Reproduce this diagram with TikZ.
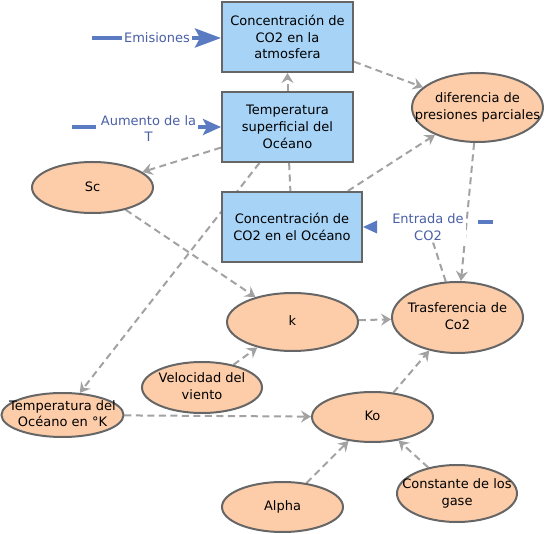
\documentclass[tikz,border=0pt]{standalone}
\usepackage{fontspec}
\setmainfont{DejaVu Sans}
\usetikzlibrary{shapes.geometric,arrows.meta}
\definecolor{boxblue}{HTML}{A6D3F6}
\definecolor{peach}{HTML}{FDCDA9}
\definecolor{bordergray}{HTML}{666666}
\definecolor{dashgray}{HTML}{A2A2A2}
\definecolor{flowblue}{HTML}{5A7BC2}
\definecolor{labelblue}{HTML}{4A5FA6}
\pgfdeclarelayer{bg}
\pgfsetlayers{bg,main}
\newcommand\ctext[1]{\smash{\makebox[0pt]{\raisebox{-3.2pt}{\begin{tabular}{@{}c@{}}#1\end{tabular}}}}}
\tikzset{
  stockbox/.style={draw=bordergray, line width=2pt, fill=boxblue, minimum width=131pt, minimum height=70pt, align=center, inner sep=0pt},
  aux/.style={ellipse, draw=bordergray, line width=2pt, fill=peach, inner sep=0pt},
  infl/.style={draw=dashgray, line width=2pt, dash pattern=on 7pt off 4.5pt, -{Stealth[length=10pt,width=12pt,inset=3.5pt]}},
  flowline/.style={draw=flowblue, line width=4pt},
  flowlabel/.style={text=labelblue, align=center, fill=white, inner sep=2pt}
}
\begin{document}
\begin{tikzpicture}[x=1pt,y=-1pt,font=\fontsize{13}{16.8}\selectfont]
\useasboundingbox (0,0) rectangle (544,534);
% stocks
\node[stockbox] (b1) at (287.5,37) {Concentración de\\CO2 en la\\atmosfera};
\node[stockbox] (b2) at (287.5,127) {Temperatura\\superficial del\\Océano};
\node[stockbox, minimum width=140pt] (b3) at (292,227) {Concentración de\\CO2 en el Océano};
% auxiliaries
\node[aux, minimum width=131pt, minimum height=69pt] (dif) at (477.5,107.5) {\ctext{diferencia de\\presiones parciales}};
\node[aux, minimum width=121pt, minimum height=51pt] (sc) at (92.5,187.5) {\ctext{Sc}};
\node[aux, minimum width=131pt, minimum height=58pt] (k) at (292.5,322) {\ctext{k}};
\node[aux, minimum width=131pt, minimum height=71pt] (trasf) at (457.5,317.5) {\ctext{Trasferencia de\\Co2}};
\node[aux, minimum width=120pt, minimum height=51pt] (vel) at (202,387.5) {\ctext{Velocidad del\\viento}};
\node[aux, minimum width=122pt, minimum height=44pt] (tk) at (62.5,415) {\ctext{Temperatura del\\Océano en °K}};
\node[aux, minimum width=121pt, minimum height=50pt] (ko) at (372.5,417) {\ctext{Ko}};
\node[aux, minimum width=121pt, minimum height=50pt] (alpha) at (282.5,507) {\ctext{Alpha}};
\node[aux, minimum width=120pt, minimum height=57pt] (cte) at (457,493.5) {\ctext{Constante de los\\gase}};
% flow labels
\node[flowlabel] (em) at (157,38) {Emisiones};
\node[flowlabel] (au) at (148.5,128.5) {Aumento de la\\T};
\node[flowlabel] (ent) at (428,227) {Entrada de\\CO2};
\coordinate (emsrc) at (92,38);
\coordinate (aum1) at (72,127);
\coordinate (aum2) at (96,127);
\coordinate (ent1) at (478,222);
\coordinate (ent2) at (493,222);
\begin{pgfonlayer}{bg}
\draw[infl] (b2) -- (b1);
\draw[infl] (b1) -- (dif);
\draw[infl] (b2) -- (sc);
\draw[infl] (b2) -- (tk);
\draw[infl,-] (b2) -- (b3);
\draw[infl] (b3) -- (dif);
\draw[infl] (sc) -- (k);
\draw[infl] (dif) -- (trasf);
\draw[infl,-] (trasf) -- (ent);
\draw[infl] (k) -- (trasf);
\draw[infl] (vel) -- (k);
\draw[infl] (tk) -- (ko);
\draw[infl] (ko) -- (trasf);
\draw[infl] (alpha) -- (ko);
\draw[infl] (cte) -- (ko);
\draw[flowline, -{Stealth[length=26pt,width=19pt,inset=5pt]}] (emsrc) -- (b1.west |- emsrc);
\end{pgfonlayer}
% flows
\draw[flowline] (aum1) -- (aum2);
\draw[flowline, -{Stealth[length=18pt,width=16pt,inset=4pt]}] (au.east |- b2.west) -- (b2.west);
\draw[flowline] (ent1) -- (ent2);
\fill[flowblue] (b3.east) -- ++(14,-6.5) -- ++(0,13) -- cycle;
\end{tikzpicture}
\end{document}
